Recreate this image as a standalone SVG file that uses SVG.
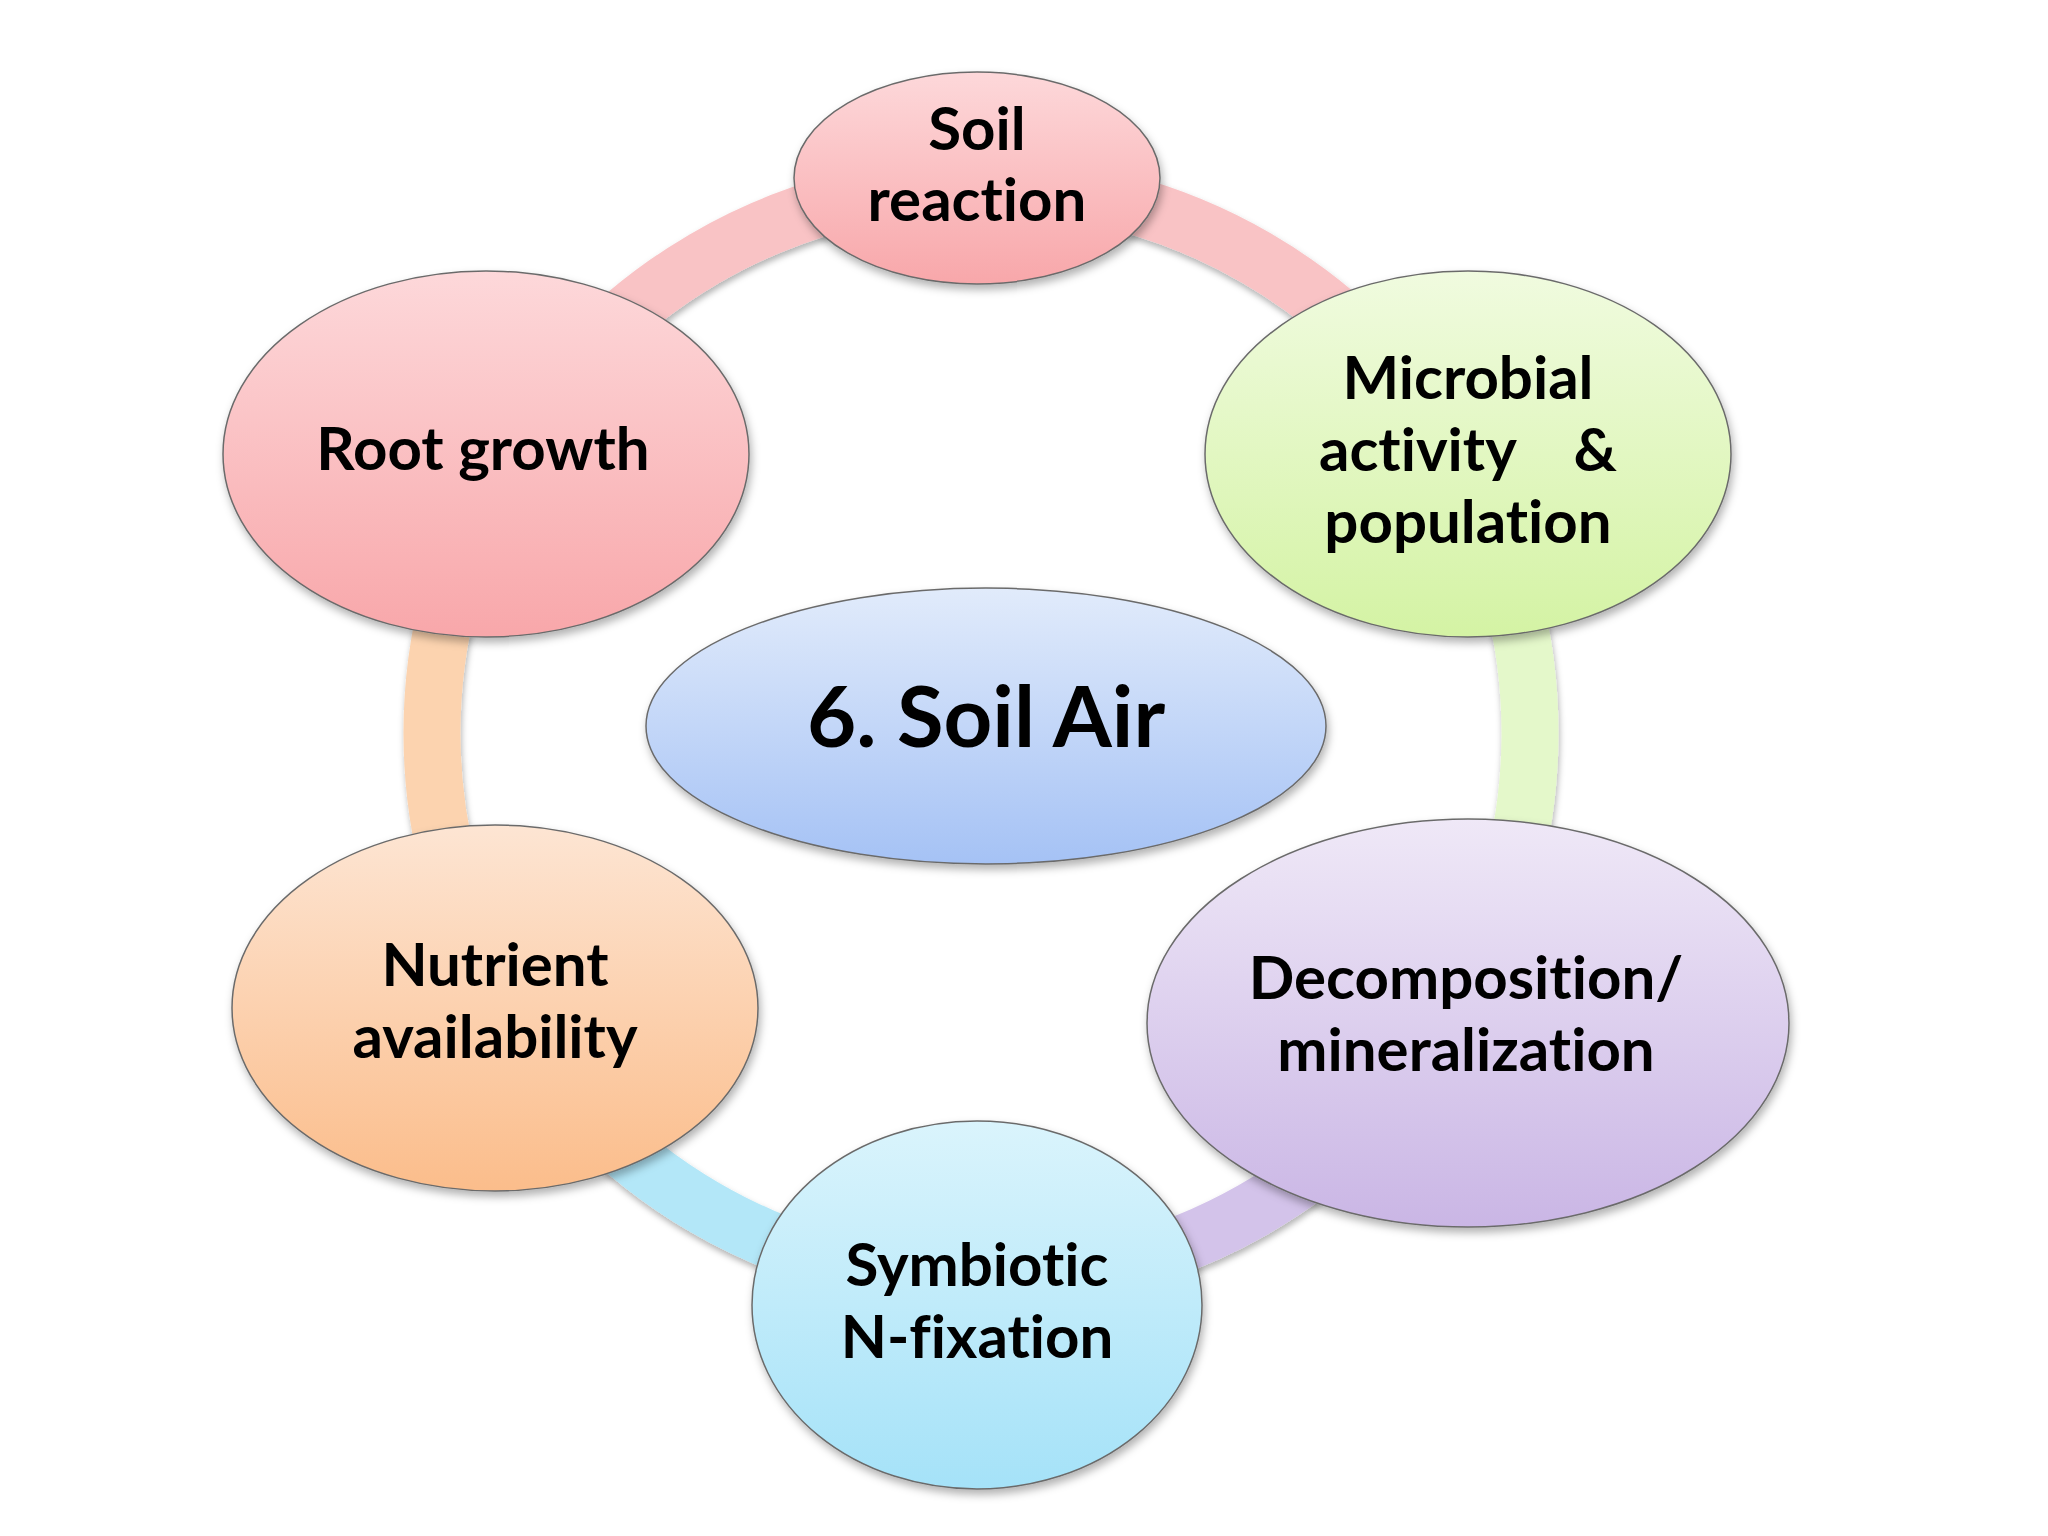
<svg xmlns="http://www.w3.org/2000/svg" width="2048" height="1536" viewBox="0 0 2048 1536">
  <defs>
    <style>
      .lbl { font-family: Lato, "Open Sans", "Liberation Sans", sans-serif; font-weight: 700; font-size: 60px; fill: #000; text-anchor: middle; white-space: pre; font-variant-ligatures: none; font-feature-settings: "liga" 0, "clig" 0; }
      .big { font-size: 85px; }
      .node { stroke: #6b6b6b; stroke-width: 1.5; filter: url(#shadow); }
      .seg { fill: none; stroke-width: 57; stroke-linecap: butt; filter: url(#segshadow); }
    </style>
    <filter id="shadow" x="-10%" y="-10%" width="120%" height="125%">
      <feDropShadow dx="2" dy="5" stdDeviation="4" flood-color="#000" flood-opacity="0.3"/>
    </filter>
    <filter id="segshadow" filterUnits="userSpaceOnUse" x="0" y="0" width="2048" height="1536">
      <feDropShadow dx="1" dy="4" stdDeviation="3" flood-color="#000" flood-opacity="0.3"/>
    </filter>
    <linearGradient id="gPink" x1="0" y1="0" x2="0" y2="1">
      <stop offset="0" stop-color="#FDD8DA"/>
      <stop offset="1" stop-color="#F8A7AA"/>
    </linearGradient>
    <linearGradient id="gGreen" x1="0" y1="0" x2="0" y2="1">
      <stop offset="0" stop-color="#F0FBDF"/>
      <stop offset="1" stop-color="#D4F3A4"/>
    </linearGradient>
    <linearGradient id="gBlue" x1="0" y1="0" x2="0" y2="1">
      <stop offset="0" stop-color="#E1EBFB"/>
      <stop offset="1" stop-color="#A5C2F5"/>
    </linearGradient>
    <linearGradient id="gOrange" x1="0" y1="0" x2="0" y2="1">
      <stop offset="0" stop-color="#FDE5D3"/>
      <stop offset="1" stop-color="#FBBD8B"/>
    </linearGradient>
    <linearGradient id="gLav" x1="0" y1="0" x2="0" y2="1">
      <stop offset="0" stop-color="#EFE8F7"/>
      <stop offset="1" stop-color="#CAB6E5"/>
    </linearGradient>
    <linearGradient id="gCyan" x1="0" y1="0" x2="0" y2="1">
      <stop offset="0" stop-color="#DAF4FC"/>
      <stop offset="1" stop-color="#A5E2F8"/>
    </linearGradient>
  </defs>

  <rect width="2048" height="1536" fill="#ffffff"/>

  <g id="connectors">
    <path class="seg" stroke="#F9C3C5" d="M981,184 A549,549 0 0 1 1457.4,460.1"/>
    <path class="seg" stroke="#E4F8CA" d="M1457.4,460.1 A549,549 0 0 1 1452.6,1014.1"/>
    <path class="seg" stroke="#D3C3EA" d="M1452.6,1014.1 A549,549 0 0 1 981,1282"/>
    <path class="seg" stroke="#B3E7F8" d="M981,1282 A549,549 0 0 1 503.1,1003.3"/>
    <path class="seg" stroke="#FCD3AF" d="M503.1,1003.3 A549,549 0 0 1 502.7,463.5"/>
    <path class="seg" stroke="#F9C3C5" d="M502.7,463.5 A549,549 0 0 1 981,184"/>
  </g>

  <g id="node-center">
    <ellipse class="node" cx="986" cy="726" rx="340" ry="138" fill="url(#gBlue)"/>
    <text class="lbl big" x="986" y="747">6. Soil Air</text>
  </g>

  <g id="node-soil-reaction">
    <ellipse class="node" cx="977" cy="178" rx="183" ry="106" fill="url(#gPink)"/>
    <text class="lbl" x="977" y="150">Soil</text>
    <text class="lbl" x="977" y="221">reaction</text>
  </g>

  <g id="node-microbial">
    <ellipse class="node" cx="1468" cy="454" rx="263" ry="183" fill="url(#gGreen)"/>
    <text class="lbl" x="1468" y="399">Microbial</text>
    <text class="lbl" x="1468" y="471">activity    &amp;</text>
    <text class="lbl" x="1468" y="543">population</text>
  </g>

  <g id="node-decomposition">
    <ellipse class="node" cx="1468" cy="1023" rx="321" ry="204" fill="url(#gLav)"/>
    <text class="lbl" x="1466" y="999">Decomposition/</text>
    <text class="lbl" x="1466" y="1071">mineralization</text>
  </g>

  <g id="node-symbiotic">
    <ellipse class="node" cx="977" cy="1305" rx="225" ry="184" fill="url(#gCyan)"/>
    <text class="lbl" x="977" y="1286">Symbiotic</text>
    <text class="lbl" x="977" y="1358">N-fixation</text>
  </g>

  <g id="node-nutrient">
    <ellipse class="node" cx="495" cy="1008" rx="263" ry="183" fill="url(#gOrange)"/>
    <text class="lbl" x="495" y="986">Nutrient</text>
    <text class="lbl" x="495" y="1058">availability</text>
  </g>

  <g id="node-root">
    <ellipse class="node" cx="486" cy="454" rx="263" ry="183" fill="url(#gPink)"/>
    <text class="lbl" x="483" y="470">Root growth</text>
  </g>
</svg>
